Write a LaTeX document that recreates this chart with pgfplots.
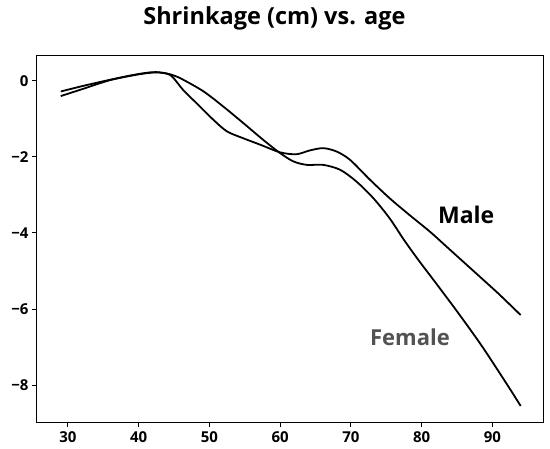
\documentclass[border=0pt]{standalone}
\usepackage{pgfplots}
\pgfplotsset{compat=1.18}
\usepackage{fontspec}
\setmainfont{Open Sans}
\begin{document}
\begin{tikzpicture}
\useasboundingbox (-36pt,-26.3pt) rectangle (514pt,422.7pt);
\begin{axis}[
  scale only axis,
  width=507.3pt, height=367.7pt,
  xmin=25.5, xmax=97.2, ymin=-8.99, ymax=0.68,
  xtick={30,40,50,60,70,80,90}, xticklabels={30,40,50,60,70,80,90},
  ytick={-8,-6,-4,-2,0}, yticklabels={−8,−6,−4,−2,0},
  tick align=outside, tick pos=left,
  major tick length=4pt,
  axis line style={line width=0.9pt},
  tick style={line width=0.9pt, black},
  ticklabel style={font=\fontsize{15}{15}\selectfont\bfseries},
  xticklabel style={yshift=-1pt},
  title={Shrinkage (cm) vs. age},
  title style={font=\fontsize{23.5}{23.5}\selectfont\bfseries, at={(0.47,1)}, anchor=center, yshift=31pt},
  clip=false,
]
\addplot[black, line width=1.8pt, smooth, tension=0.5] coordinates {
(29,-0.40) (32,-0.22) (36,0.02) (40,0.17) (42.5,0.22) (44.5,0.15)
(46.3,-0.24) (48.7,-0.68) (50.6,-1.03) (52.5,-1.33) (54.8,-1.51)
(57.2,-1.68) (60,-1.88) (62.3,-1.93) (64.2,-1.83) (66.1,-1.77)
(68,-1.86) (69.9,-2.08) (72.7,-2.6) (75.5,-3.09) (78.3,-3.53)
(81.2,-3.97) (84,-4.44) (88.7,-5.23) (91,-5.62) (94,-6.16)
};
\addplot[black, line width=1.8pt, smooth, tension=0.5] coordinates {
(29,-0.28) (32,-0.14) (36,0.03) (40,0.18) (42.5,0.23) (44.7,0.16)
(46.3,0.03) (49.2,-0.28) (52,-0.68) (54.8,-1.11) (57.6,-1.55)
(60,-1.90) (61.9,-2.12) (63.8,-2.21) (66.1,-2.21) (68.5,-2.34)
(70.8,-2.65) (73.2,-3.09) (75.5,-3.62) (77.5,-4.18) (79.5,-4.70) (81.7,-5.24)
(85,-6.06) (88.5,-6.97) (92.2,-8.02) (94,-8.55)
};
\node[font=\fontsize{23}{23}\selectfont\bfseries, black] at (axis cs:86.3,-3.53) {Male};
\node[font=\fontsize{22}{22}\selectfont\bfseries, black!68] at (axis cs:78.35,-6.73) {Female};
\end{axis}
\end{tikzpicture}
\end{document}
